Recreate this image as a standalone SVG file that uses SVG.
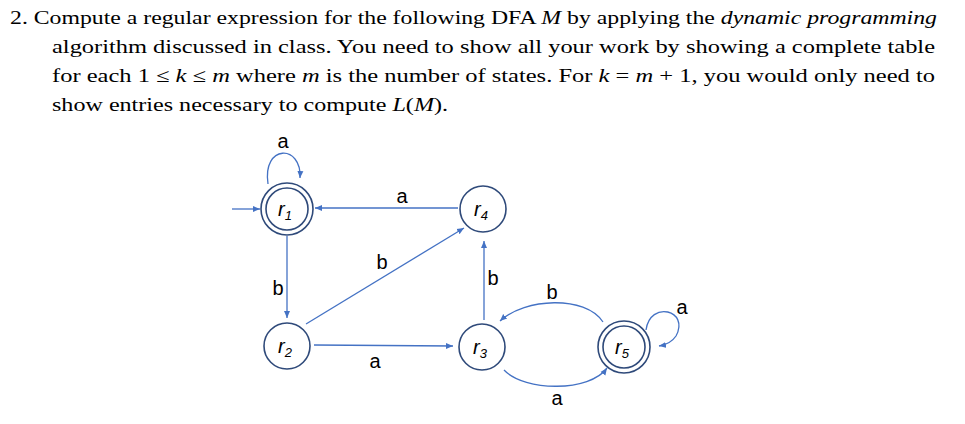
<svg xmlns="http://www.w3.org/2000/svg" width="965" height="424" viewBox="0 0 965 424">
<defs>
<marker id="ah" markerWidth="8" markerHeight="8" refX="7" refY="4" orient="auto" markerUnits="userSpaceOnUse"><path d="M0,1 L7,4 L0,7 Z" fill="#4472c4"/></marker>
</defs>
<style>
.t{font-family:"Liberation Serif",serif;font-size:19px;fill:#000}
.n{fill:#fff;stroke:#2f4a7a;stroke-width:1.6}
.e{fill:none;stroke:#4472c4;stroke-width:1.3;marker-end:url(#ah)}
.l{font-family:"Liberation Sans",sans-serif;font-size:20px;fill:#000;text-anchor:middle}
.s{font-family:"Liberation Sans",sans-serif;font-size:20px;font-style:italic;fill:#000;text-anchor:middle}
</style>
<rect width="965" height="424" fill="#fff"/>
<g id="text">
<text class="t" x="10" y="24" textLength="927" lengthAdjust="spacingAndGlyphs">2. Compute a regular expression for the following DFA <tspan font-style="italic">M</tspan> by applying the <tspan font-style="italic">dynamic programming</tspan></text>
<text class="t" x="52" y="53" textLength="883" lengthAdjust="spacingAndGlyphs">algorithm discussed in class. You need to show all your work by showing a complete table</text>
<text class="t" x="52" y="82" textLength="883" lengthAdjust="spacingAndGlyphs">for each 1 ≤ <tspan font-style="italic">k</tspan> ≤ <tspan font-style="italic">m</tspan> where <tspan font-style="italic">m</tspan> is the number of states. For <tspan font-style="italic">k</tspan> = <tspan font-style="italic">m</tspan> + 1, you would only need to</text>
<text class="t" x="52" y="111" textLength="396" lengthAdjust="spacingAndGlyphs">show entries necessary to compute <tspan font-style="italic">L</tspan>(<tspan font-style="italic">M</tspan>).</text>
</g>
<g id="connectors">
<path class="e" d="M232,209 L260,209"/>
<path class="e" d="M268,184 C262,144 302,144 300,178"/>
<path class="e" d="M458,208 L315,208"/>
<path class="e" d="M287,236 L287,318"/>
<path class="e" d="M306,324 L464,228"/>
<path class="e" d="M314,345 L453,346"/>
<path class="e" d="M484,320 L484,241"/>
<path class="e" d="M603,322 C585,295 525,298 500,321"/>
<path class="e" d="M504,370 C525,392 590,392 607,368"/>
<path class="e" d="M646,330 C650,300 690,310 676,336 C672,342 665,345 659,346"/>
<text class="l" x="283" y="148">a</text>
<text class="l" x="402" y="203">a</text>
<text class="l" x="278" y="295">b</text>
<text class="l" x="382" y="269">b</text>
<text class="l" x="375" y="368">a</text>
<text class="l" x="493" y="285">b</text>
<text class="l" x="552" y="299">b</text>
<text class="l" x="557" y="405">a</text>
<text class="l" x="682" y="314">a</text>
</g>
<g id="r1"><circle class="n" cx="287" cy="209" r="26"/><circle class="n" cx="287" cy="209" r="21"/><text class="s" x="285" y="216">r<tspan font-size="13" dy="4">1</tspan></text></g>
<g id="r4"><circle class="n" cx="483" cy="209" r="23"/><text class="s" x="481" y="216">r<tspan font-size="13" dy="4">4</tspan></text></g>
<g id="r2"><circle class="n" cx="287" cy="346" r="23"/><text class="s" x="285" y="353">r<tspan font-size="13" dy="4">2</tspan></text></g>
<g id="r3"><circle class="n" cx="482" cy="347" r="23"/><text class="s" x="480" y="354">r<tspan font-size="13" dy="4">3</tspan></text></g>
<g id="r5"><circle class="n" cx="624" cy="347" r="26"/><circle class="n" cx="624" cy="347" r="21"/><text class="s" x="622" y="354">r<tspan font-size="13" dy="4">5</tspan></text></g>
</svg>
